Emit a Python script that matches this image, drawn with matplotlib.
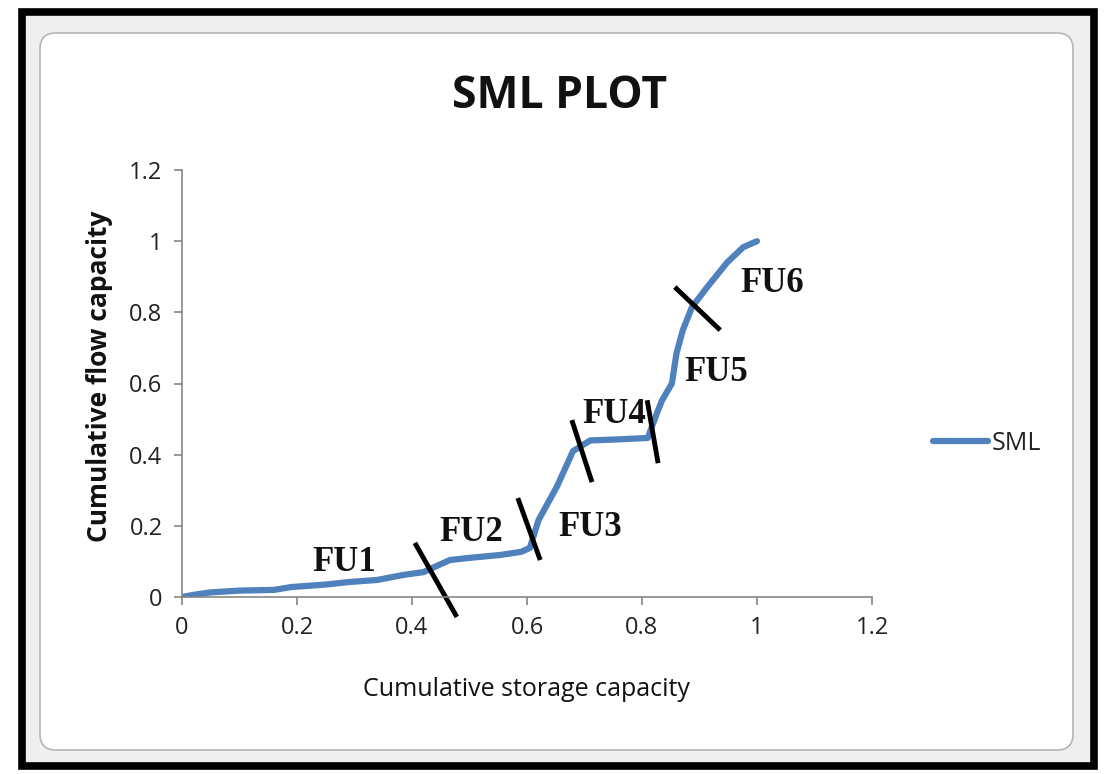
import matplotlib.pyplot as plt
from matplotlib.patches import Rectangle, FancyBboxPatch
from matplotlib.transforms import IdentityTransform

# cumulative storage capacity vs cumulative flow capacity
storage = [0, 0.02, 0.05, 0.10, 0.16, 0.19, 0.25, 0.29, 0.34, 0.385, 0.42, 0.44,
           0.466, 0.50, 0.553, 0.59, 0.605, 0.62, 0.652, 0.68, 0.71, 0.76, 0.81,
           0.826, 0.835, 0.852, 0.86, 0.871, 0.887, 0.913, 0.948, 0.976, 1.0]
flow = [0, 0.006, 0.013, 0.018, 0.02, 0.028, 0.035, 0.042, 0.048, 0.062, 0.07, 0.085,
        0.104, 0.11, 0.118, 0.127, 0.138, 0.216, 0.31, 0.41, 0.44, 0.443, 0.447,
        0.517, 0.553, 0.60, 0.685, 0.75, 0.815, 0.87, 0.94, 0.983, 1.0]

# flow unit labels and their positions
fu_labels = ['FU1', 'FU2', 'FU3', 'FU4', 'FU5', 'FU6']
fu_x = [0.282, 0.503, 0.71, 0.751, 0.929, 1.026]
fu_y = [0.096, 0.18, 0.194, 0.514, 0.632, 0.882]

# hand drawn separators between flow units: (x0, y0, x1, y1)
cuts = [(0.405, 0.152, 0.478, -0.056),
        (0.584, 0.278, 0.623, 0.104),
        (0.678, 0.497, 0.713, 0.323),
        (0.809, 0.553, 0.828, 0.376),
        (0.857, 0.871, 0.936, 0.750)]

ticks = [0, 0.2, 0.4, 0.6, 0.8, 1, 1.2]
tick_labels = ['0', '0.2', '0.4', '0.6', '0.8', '1', '1.2']

W, H = 1113, 774
fig = plt.figure(figsize=(W / 100, H / 100), dpi=100)
fig.patch.set_facecolor('white')

# frame: black outline, pale sheet band, rounded white chart area
outer = Rectangle((22, H - 766), 1072, 754, transform=IdentityTransform(),
                  facecolor='#efefef', edgecolor='black', linewidth=5.5,
                  zorder=-10)
fig.patches.append(outer)
inner = FancyBboxPatch((40, H - 750), 1033, 717, transform=IdentityTransform(),
                       boxstyle='round,pad=0,rounding_size=16',
                       facecolor='white', edgecolor='#b5b5b5', linewidth=1.2,
                       zorder=-9)
fig.patches.append(inner)

ax = fig.add_axes([182 / W, 1 - 597 / H, (872 - 182) / W, (597 - 170) / H])
ax.set_facecolor('none')
ax.set_zorder(5)

line, = ax.plot(storage, flow, color='#4F81BD', linewidth=4.5,
                solid_capstyle='round', solid_joinstyle='round', label='SML')

for x0, y0, x1, y1 in cuts:
    ax.plot([x0, x1], [y0, y1], color='black', linewidth=3.5, clip_on=False,
            solid_capstyle='butt')

for lab, x, y in zip(fu_labels, fu_x, fu_y):
    ax.text(x, y, lab, fontsize=25, fontweight='bold', family='Liberation Serif',
            ha='center', va='center', color='#111111', clip_on=False)

ax.set_xlim(0, 1.2)
ax.set_ylim(0, 1.2)
ax.set_xticks(ticks)
ax.set_xticklabels(tick_labels)
ax.set_yticks(ticks)
ax.set_yticklabels(tick_labels)
for s in ['top', 'right']:
    ax.spines[s].set_visible(False)
for s in ['left', 'bottom']:
    ax.spines[s].set_color('#868686')
    ax.spines[s].set_linewidth(1.2)
ax.tick_params(direction='out', length=6, width=1.2, color='#868686',
               labelsize=17, labelcolor='#222222', pad=8)
for t in ax.get_xticklabels() + ax.get_yticklabels():
    t.set_family('Open Sans')

fig.text(0.503, 1 - 96 / H, 'SML PLOT', fontsize=32, fontweight='bold',
         family='Open Sans', ha='center', va='center', color='#111111')
fig.text(526 / W, 1 - 690 / H, 'Cumulative storage capacity', fontsize=18,
         family='Open Sans', ha='center', va='center', color='#111111')
fig.text(100 / W, 1 - 376 / H, 'Cumulative flow capacity', fontsize=19,
         fontweight='bold', family='Open Sans', rotation=90,
         ha='center', va='center', color='#111111')

leg = fig.legend(handles=[line], loc='center left',
                 bbox_to_anchor=(933 / W, 1 - 443 / H), frameon=False,
                 borderpad=0, borderaxespad=0, handlelength=2.2,
                 handletextpad=0.15, prop={'family': 'Open Sans', 'size': 18})
for t in leg.get_texts():
    t.set_color('#222222')

fig.savefig('out.png', dpi=100)
